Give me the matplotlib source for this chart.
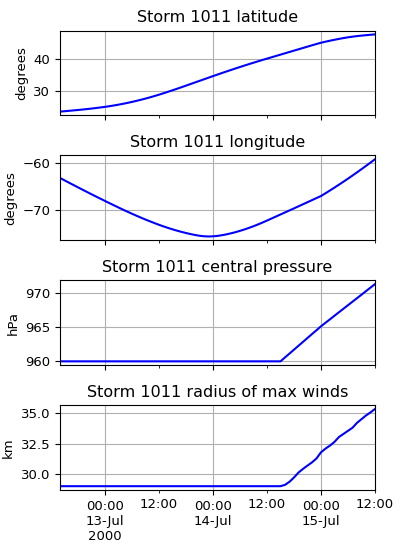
import matplotlib
matplotlib.use('Agg')
import matplotlib.pyplot as plt
import matplotlib.dates as mdates
import pandas as pd

# hourly track, 12 Jul 2000 14:00 -> 15 Jul 2000 12:00
times = pd.date_range('2000-07-12 14:00', periods=71, freq='h')

latitude = [
    23.50, 23.62, 23.75, 23.88, 24.01, 24.15, 24.30, 24.46, 24.63, 24.81,
    25.00, 25.21, 25.44, 25.69, 25.96, 26.25, 26.56, 26.89, 27.24, 27.61,
    28.00, 28.41, 28.84, 29.29, 29.75, 30.22, 30.70, 31.19, 31.69, 32.19,
    32.69, 33.19, 33.69, 34.19, 34.69, 35.18, 35.67, 36.15, 36.63, 37.10,
    37.56, 38.02, 38.47, 38.91, 39.35, 39.78, 40.20, 40.62, 41.04, 41.46,
    41.88, 42.30, 42.72, 43.14, 43.56, 43.98, 44.40, 44.81, 45.21, 45.54,
    45.85, 46.14, 46.42, 46.68, 46.92, 47.12, 47.30, 47.45, 47.59, 47.72,
    47.84]

longitude = [
    -63.28, -63.78, -64.28, -64.78, -65.27, -65.76, -66.25, -66.73, -67.21, -67.68,
    -68.15, -68.62, -69.08, -69.54, -69.99, -70.43, -70.86, -71.28, -71.69, -72.09,
    -72.47, -72.84, -73.20, -73.54, -73.86, -74.16, -74.44, -74.70, -74.94, -75.16,
    -75.36, -75.52, -75.63, -75.67, -75.64, -75.55, -75.40, -75.22, -75.00, -74.76,
    -74.48, -74.18, -73.85, -73.50, -73.12, -72.72, -72.30, -71.87, -71.44, -71.01,
    -70.58, -70.15, -69.72, -69.28, -68.84, -68.41, -67.97, -67.53, -67.10, -66.52,
    -65.92, -65.31, -64.69, -64.06, -63.42, -62.76, -62.09, -61.41, -60.72, -60.02,
    -59.31]

pressure = [960.0] * 50 + [
    960.57, 961.13, 961.70, 962.27, 962.83, 963.40, 963.97, 964.53, 965.10, 965.61,
    966.12, 966.64, 967.15, 967.66, 968.17, 968.68, 969.19, 969.70, 970.22, 970.73,
    971.24]

radius = [29.04] * 50 + [
    29.15, 29.40, 29.75, 30.15, 30.45, 30.72, 30.98, 31.30, 31.80, 32.10,
    32.35, 32.65, 33.05, 33.30, 33.55, 33.80, 34.20, 34.50, 34.80, 35.05,
    35.33]

titles = ['Storm 1011 latitude', 'Storm 1011 longitude',
          'Storm 1011 central pressure', 'Storm 1011 radius of max winds']
ylabels = ['degrees', 'degrees', 'hPa', 'km']
yticks = [[30, 40], [-70, -60], [960, 965, 970], [30.0, 32.5, 35.0]]
series = [latitude, longitude, pressure, radius]

fig, axes = plt.subplots(4, 1, sharex=True, figsize=(4.03, 5.5), dpi=100)
fig.subplots_adjust(left=0.149, right=0.9305, top=0.9445, bottom=0.109, hspace=0.47)

first_midnight = mdates.date2num(times[0].ceil('D'))


def major_fmt(x, pos):
    d = mdates.num2date(x)
    s = d.strftime('%H:%M\n%d-%b')
    if abs(x - first_midnight) < 1e-6:
        s += '\n' + d.strftime('%Y')
    return s


for ax, vals, title, ylab, yt in zip(axes, series, titles, ylabels, yticks):
    ax.plot(times, vals, 'b', linewidth=1.5)
    ax.set_title(title, fontsize=11.5)
    ax.set_ylabel(ylab, fontsize=9.5)
    ax.set_yticks(yt)
    ax.grid(True)
    ax.tick_params(which='both', labelsize=9.5)

ax = axes[-1]
ax.set_xlim(times[0], times[-1])
ax.xaxis.set_major_locator(mdates.HourLocator(byhour=0))
ax.xaxis.set_minor_locator(mdates.HourLocator(byhour=12))
ax.xaxis.set_major_formatter(plt.FuncFormatter(major_fmt))
ax.xaxis.set_minor_formatter(mdates.DateFormatter('%H:%M'))
for label in ax.get_xticklabels(which='both'):
    label.set_horizontalalignment('center')

plt.savefig('out.png', dpi=100)
